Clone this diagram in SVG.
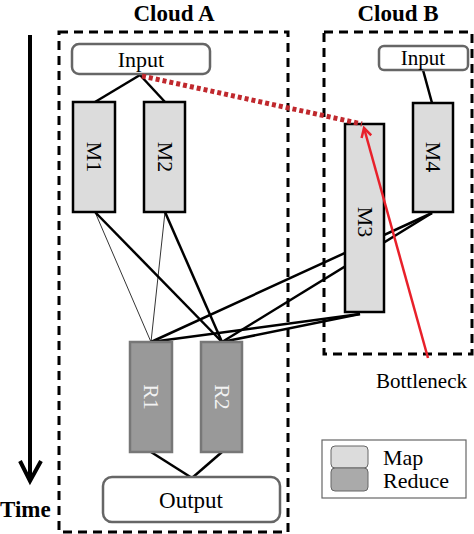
<svg xmlns="http://www.w3.org/2000/svg" width="474" height="534" viewBox="0 0 474 534">
<defs>
<style>
.cloud{fill:none;stroke:#000;stroke-width:3;stroke-dasharray:9,6}
.io{fill:#fff;stroke:#666;stroke-width:2.5}
.map{fill:#dcdcdc;stroke:#000;stroke-width:2.5}
.red{fill:#999;stroke:#777;stroke-width:2.5}
.t{font-family:"Liberation Serif","Times New Roman",serif;fill:#000}
.b{font-weight:bold}
.ln{stroke:#000;stroke-width:2.5;fill:none}
.thin{stroke:#000;stroke-width:0.8;fill:none}
</style>
<marker id="arr" markerWidth="12" markerHeight="12" refX="10" refY="6" orient="auto" markerUnits="userSpaceOnUse" viewBox="0 0 12 12">
<path d="M1,1 L10,6 L1,11" fill="none" stroke="#e8202a" stroke-width="2.5"/>
</marker>
</defs>
<g id="time">
<line x1="30" y1="35" x2="30" y2="480" stroke="#000" stroke-width="4"/>
<path d="M20,461 L30,481 L41,461" fill="none" stroke="#000" stroke-width="4"/>
<text class="t b" x="0" y="517" font-size="23">Time</text>
</g>
<g id="cloudA">
<rect class="cloud" x="59" y="32" width="229" height="500"/>
<text class="t b" x="174" y="21" font-size="23" text-anchor="middle">Cloud A</text>
</g>
<g id="cloudB">
<rect class="cloud" x="324" y="32" width="148" height="322"/>
<text class="t b" x="398" y="21" font-size="23" text-anchor="middle">Cloud B</text>
</g>
<g id="connectors">
<line class="ln" x1="140" y1="75" x2="95" y2="102"/>
<line class="ln" x1="140" y1="75" x2="165" y2="102"/>
<line class="ln" x1="423" y1="70" x2="432" y2="103"/>
<line class="thin" x1="95" y1="212" x2="151" y2="342"/>
<line class="ln" x1="95" y1="212" x2="222" y2="342"/>
<line class="thin" x1="165" y1="212" x2="151" y2="342"/>
<line class="ln" x1="165" y1="212" x2="222" y2="342"/>
<line class="ln" x1="432" y1="213" x2="151" y2="342"/>
<line class="ln" x1="432" y1="213" x2="222" y2="342"/>
<line class="ln" x1="360" y1="314" x2="151" y2="342" stroke-width="2"/>
<line class="ln" x1="360" y1="314" x2="222" y2="342" stroke-width="2"/>
<line class="ln" x1="151" y1="452" x2="192" y2="478"/>
<line class="ln" x1="222" y1="452" x2="192" y2="478"/>
</g>
<g id="inputA">
<rect class="io" x="72" y="44" width="138" height="30" rx="7"/>
<text class="t" x="141" y="67" font-size="22" text-anchor="middle">Input</text>
</g>
<g id="inputB">
<rect class="io" x="379" y="46" width="89" height="24" rx="5"/>
<text class="t" x="423" y="65" font-size="21" text-anchor="middle">Input</text>
</g>
<g id="M1">
<rect class="map" x="73" y="102" width="42" height="110"/>
<text class="t" transform="translate(87,157) rotate(90)" font-size="22" text-anchor="middle">M1</text>
</g>
<g id="M2">
<rect class="map" x="144" y="102" width="41" height="110"/>
<text class="t" transform="translate(158,157) rotate(90)" font-size="22" text-anchor="middle">M2</text>
</g>
<g id="M3">
<rect class="map" x="345" y="124" width="39" height="188"/>
<text class="t" transform="translate(358,222) rotate(90)" font-size="22" text-anchor="middle">M3</text>
</g>
<g id="M4">
<rect class="map" x="413" y="103" width="40" height="109"/>
<text class="t" transform="translate(426,157) rotate(90)" font-size="22" text-anchor="middle">M4</text>
</g>
<g id="R1">
<rect class="red" x="130" y="342" width="42" height="110"/>
<text class="t" transform="translate(144,397) rotate(90)" font-size="22" text-anchor="middle" style="fill:#f2f2f2">R1</text>
</g>
<g id="R2">
<rect class="red" x="201" y="342" width="41" height="110"/>
<text class="t" transform="translate(215,397) rotate(90)" font-size="22" text-anchor="middle" style="fill:#f2f2f2">R2</text>
</g>
<g id="output">
<rect class="io" x="103" y="477" width="177" height="45" rx="9"/>
<text class="t" x="191" y="508" font-size="23" text-anchor="middle">Output</text>
</g>
<g id="bottleneck">
<line x1="142" y1="76" x2="362" y2="124" stroke="#c0282d" stroke-width="5" stroke-dasharray="4,3"/>
<line x1="428" y1="358" x2="364" y2="128" stroke="#e8202a" stroke-width="2.5" marker-end="url(#arr)"/>
<text class="t" x="376" y="388" font-size="21">Bottleneck</text>
</g>
<g id="legend">
<rect x="322" y="440" width="144" height="58" fill="#fff" stroke="#666" stroke-width="1.2"/>
<rect x="331" y="446" width="37" height="22" rx="4" fill="#dcdcdc" stroke="#666" stroke-width="1"/>
<rect x="331" y="468" width="37" height="23" rx="4" fill="#aaa" stroke="#666" stroke-width="1"/>
<text class="t" x="383" y="465" font-size="22">Map</text>
<text class="t" x="383" y="488" font-size="22">Reduce</text>
</g>
</svg>
